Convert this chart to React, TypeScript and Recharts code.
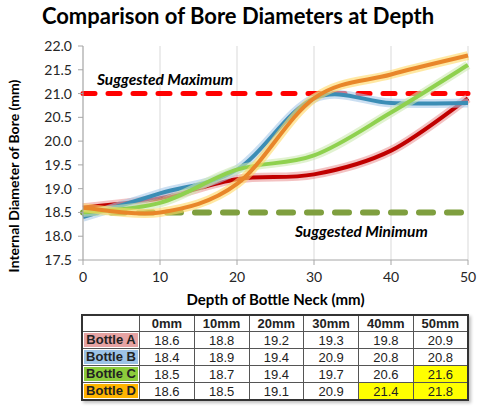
import React from 'react';
import { LineChart, Line, XAxis, YAxis, CartesianGrid, ReferenceLine } from 'recharts';

const depths = [0, 10, 20, 30, 40, 50];
const bottleA = [18.6, 18.8, 19.2, 19.3, 19.8, 20.9];
const bottleB = [18.4, 18.9, 19.4, 20.9, 20.8, 20.8];
const bottleC = [18.5, 18.7, 19.4, 19.7, 20.6, 21.6];
const bottleD = [18.6, 18.5, 19.1, 20.9, 21.4, 21.8];
const yTicks = [17.5, 18.0, 18.5, 19.0, 19.5, 20.0, 20.5, 21.0, 21.5, 22.0];
const suggestedMax = 21.0;
const suggestedMin = 18.5;

const series = [
  { key: 'A', name: 'Bottle A', values: bottleA, color: '#c00000', glow: '#eb9a9a', cell: '#e6a3a3' },
  { key: 'B', name: 'Bottle B', values: bottleB, color: '#3b8db5', glow: '#a9c9ea', cell: '#9dc3e6' },
  { key: 'C', name: 'Bottle C', values: bottleC, color: '#8fd14f', glow: '#cdeab0', cell: '#8ccc3c' },
  { key: 'D', name: 'Bottle D', values: bottleD, color: '#e8862a', glow: '#ffd966', cell: '#ffb400' },
];

const data = depths.map((d, i) => {
  const row: any = { depth: d, max: suggestedMax, min: suggestedMin };
  series.forEach((s) => (row[s.key] = s.values[i]));
  return row;
});

// Excel-like smoothing (Catmull-Rom through the points)
const smooth = (context: any) => {
  let xs: number[] = [];
  let ys: number[] = [];
  return {
    areaStart() {},
    areaEnd() {},
    lineStart() {
      xs = [];
      ys = [];
    },
    point(x: number, y: number) {
      xs.push(+x);
      ys.push(+y);
    },
    lineEnd() {
      const n = xs.length;
      if (!n) return;
      context.moveTo(xs[0], ys[0]);
      for (let i = 0; i < n - 1; i++) {
        const x0 = xs[Math.max(i - 1, 0)], y0 = ys[Math.max(i - 1, 0)];
        const x3 = xs[Math.min(i + 2, n - 1)], y3 = ys[Math.min(i + 2, n - 1)];
        context.bezierCurveTo(
          xs[i] + (xs[i + 1] - x0) / 6,
          ys[i] + (ys[i + 1] - y0) / 6,
          xs[i + 1] - (x3 - xs[i]) / 6,
          ys[i + 1] - (y3 - ys[i]) / 6,
          xs[i + 1],
          ys[i + 1]
        );
      }
    },
  };
};

const font = 'Lato, "Open Sans", sans-serif';

const MaxLabel = (props: any) => {
  const { viewBox } = props;
  return (
    <text x={viewBox.x + 14} y={viewBox.y - 9} fontFamily={font} fontSize={15.5} fontWeight={700} fontStyle="italic" fill="#000">
      Suggested Maximum
    </text>
  );
};

const MinLabel = (props: any) => {
  const { viewBox } = props;
  return (
    <text x={viewBox.x + 212} y={viewBox.y + 25} fontFamily={font} fontSize={15.5} fontWeight={700} fontStyle="italic" fill="#000">
      Suggested Minimum
    </text>
  );
};

const YLabel = () => (
  <text
    x={13}
    y={176}
    transform="rotate(-90, 13, 176)"
    textAnchor="middle"
    dominantBaseline="central"
    fontFamily={font}
    fontSize={14}
    fontWeight={700}
    fill="#000"
  >
    Internal Diameter of Bore (mm)
  </text>
);

const App = () => {
  const cellBorder = '1px solid #555';
  return (
    <div style={{ position: 'absolute', left: 0, top: 0, width: 480, height: 408, background: '#fff', fontFamily: font }}>
      <div style={{ position: 'absolute', top: 2, left: 0, width: 476, textAlign: 'center', fontSize: 22, fontWeight: 700, color: '#000' }}>
        Comparison of Bore Diameters at Depth
      </div>
      <LineChart width={480} height={310} data={data} margin={{ top: 46, right: 12, left: 0, bottom: 0 }}>
        <CartesianGrid horizontal={false} stroke="#d9d9d9" />
        <XAxis
          dataKey="depth"
          type="number"
          domain={[0, 50]}
          ticks={depths}
          height={50}
          stroke="#a6a6a6"
          tickSize={5}
          tickMargin={7}
          tick={{ fill: '#262626', fontSize: 14, fontFamily: font }}
          label={{ value: 'Depth of Bottle Neck (mm)', position: 'insideBottom', offset: 5, style: { fill: '#000', fontSize: 15, fontWeight: 700, fontFamily: font } }}
        />
        <YAxis
          type="number"
          domain={[17.5, 22]}
          ticks={yTicks}
          width={83}
          stroke="#a6a6a6"
          tickSize={5}
          tickMargin={6}
          tickFormatter={(v: number) => v.toFixed(1)}
          tick={{ fill: '#262626', fontSize: 14, fontFamily: font }}
          label={<YLabel />}
        />
        <Line dataKey="max" type="linear" stroke="#ff0000" strokeWidth={5} strokeDasharray="12 13" strokeLinecap="round" dot={false} activeDot={false} isAnimationActive={false} />
        <Line dataKey="min" type="linear" stroke="#7f9f3f" strokeWidth={6} strokeDasharray="14 14" strokeLinecap="round" dot={false} activeDot={false} isAnimationActive={false} />
        <ReferenceLine y={suggestedMax} stroke="none" label={<MaxLabel />} />
        <ReferenceLine y={suggestedMin} stroke="none" label={<MinLabel />} />
        {series.map((s) => [
          <Line key={s.key + 'g'} dataKey={s.key} type={smooth as any} stroke={s.glow} strokeOpacity={0.6} strokeWidth={9} dot={false} activeDot={false} isAnimationActive={false} />,
          <Line key={s.key} dataKey={s.key} type={smooth as any} stroke={s.color} strokeWidth={4} dot={false} activeDot={false} isAnimationActive={false} />,
        ])}
      </LineChart>
      <table
        style={{
          position: 'absolute',
          left: 81,
          top: 314,
          width: 388,
          height: 81,
          borderCollapse: 'collapse',
          border: '2px solid #333',
          fontFamily: '"Liberation Sans", Arial, sans-serif',
          fontSize: 13,
          color: '#222',
          boxShadow: '2px 2px 3px rgba(0,0,0,0.25)',
          tableLayout: 'fixed',
        }}
      >
        <tbody>
          <tr style={{ height: 16 }}>
            <td style={{ border: cellBorder, width: 54 }} />
            {depths.map((d) => (
              <td key={d} style={{ border: cellBorder, textAlign: 'center', fontWeight: 700, padding: 0 }}>
                {d}mm
              </td>
            ))}
          </tr>
          {series.map((s) => (
            <tr key={s.key} style={{ height: 16 }}>
              <td style={{ border: cellBorder, padding: 1 }}>
                <div style={{ background: s.cell, textAlign: 'center', fontWeight: 700, lineHeight: '14px' }}>{s.name}</div>
              </td>
              {s.values.map((v, i) => (
                <td
                  key={i}
                  style={{ border: cellBorder, textAlign: 'center', padding: 0, background: v > suggestedMax ? '#ffff00' : '#fff' }}
                >
                  {v.toFixed(1)}
                </td>
              ))}
            </tr>
          ))}
        </tbody>
      </table>
    </div>
  );
};

export default App;
